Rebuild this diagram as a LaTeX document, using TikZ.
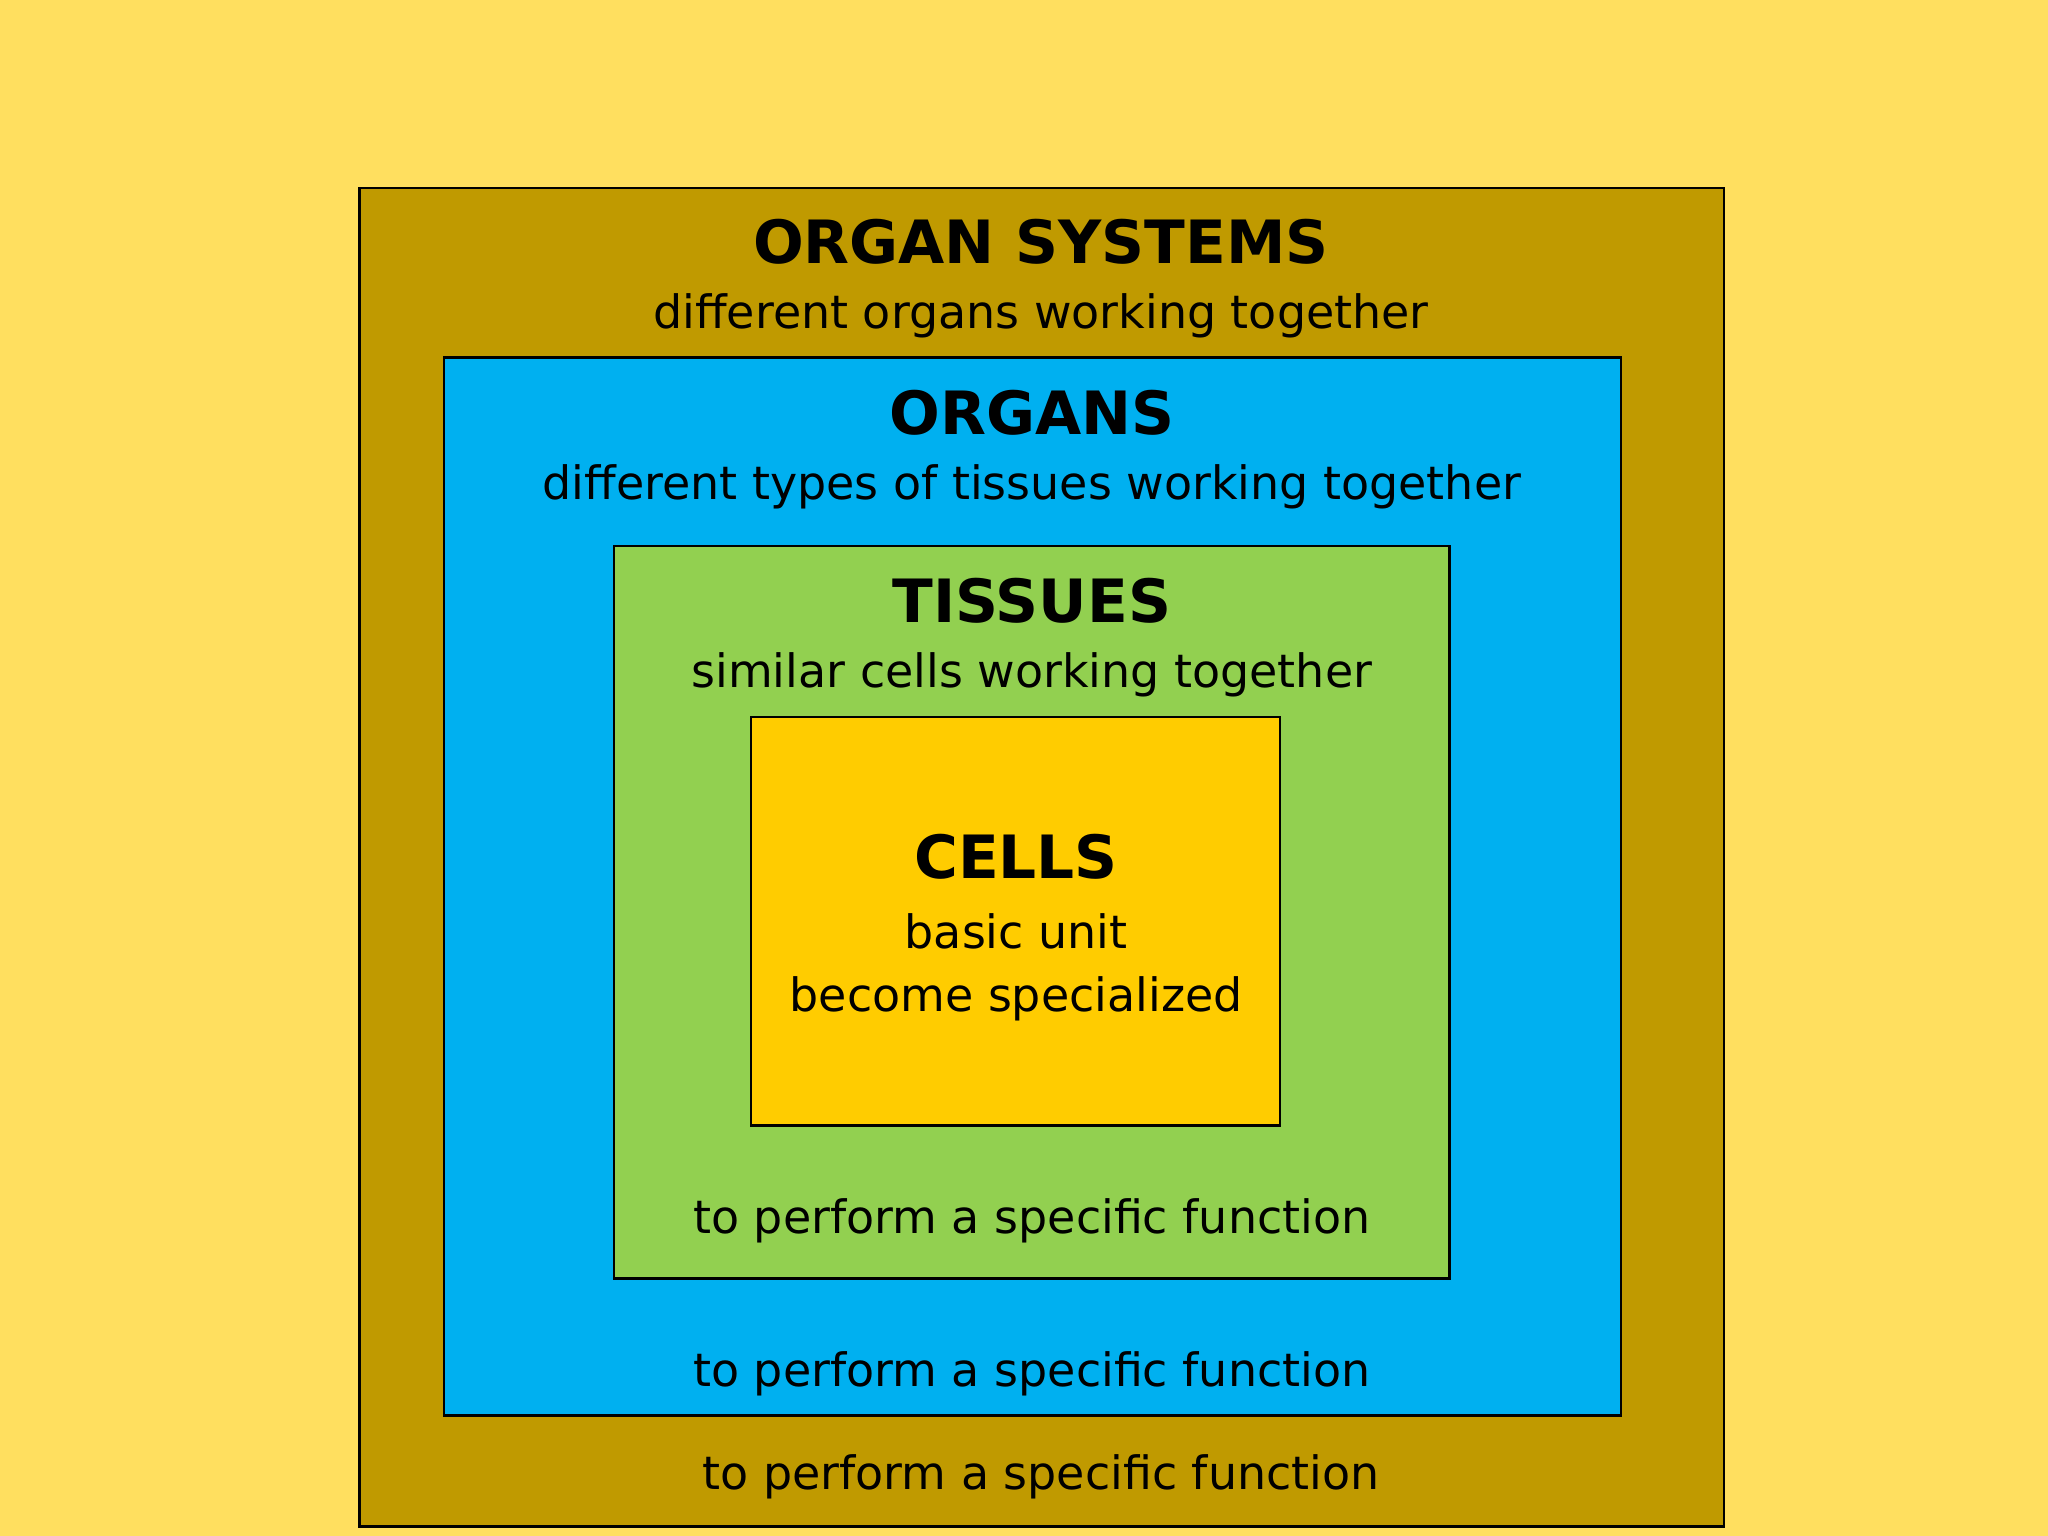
\documentclass[tikz,border=0pt]{standalone}
\usepackage{fontspec}
\setmainfont{DejaVu Sans}
\definecolor{bg}{HTML}{FFDF5F}
\definecolor{olive}{HTML}{C09A00}
\definecolor{blu}{HTML}{00B0F0}
\definecolor{grn}{HTML}{92D050}
\definecolor{yel}{HTML}{FFCC00}
\begin{document}
\begin{tikzpicture}[x=0.01cm,y=-0.01cm,
  box/.style={draw=black,line width=0.6pt},
  ttl/.style={font=\fontsize{13}{15}\selectfont\bfseries,inner sep=0},
  txt/.style={font=\fontsize{10}{12}\selectfont,inner sep=0}]
\fill[bg] (0,0) rectangle (1568,1176);
\useasboundingbox (0,0) rectangle (1568,1176);
\filldraw[box,fill=olive] (275,144) rectangle (1320,1169);
\filldraw[box,fill=blu] (340,274) rectangle (1241,1084);
\filldraw[box,fill=grn] (470,418) rectangle (1110,979);
\filldraw[box,fill=yel] (575,549) rectangle (980,862);
\node[ttl] (t1) at (797,185) {ORGAN SYSTEMS};
\node[txt] (s1) at (797,242) {different organs working together};
\node[ttl] (t2) at (790,316) {ORGANS};
\node[txt] (s2) at (790,373) {different types of tissues working together};
\node[ttl] (t3) at (790,460) {TISSUES};
\node[txt] (s3) at (790,517) {similar cells working together};
\node[ttl] (t4) at (778,656) {CELLS};
\node[txt] (s4) at (778,713) {basic unit};
\node[txt] (s5) at (778,765) {become specialized};
\node[txt] (f3) at (790,935) {to perform a specific function};
\node[txt] (f2) at (790,1052) {to perform a specific function};
\node[txt] (f1) at (797,1131) {to perform a specific function};
\end{tikzpicture}
\end{document}
